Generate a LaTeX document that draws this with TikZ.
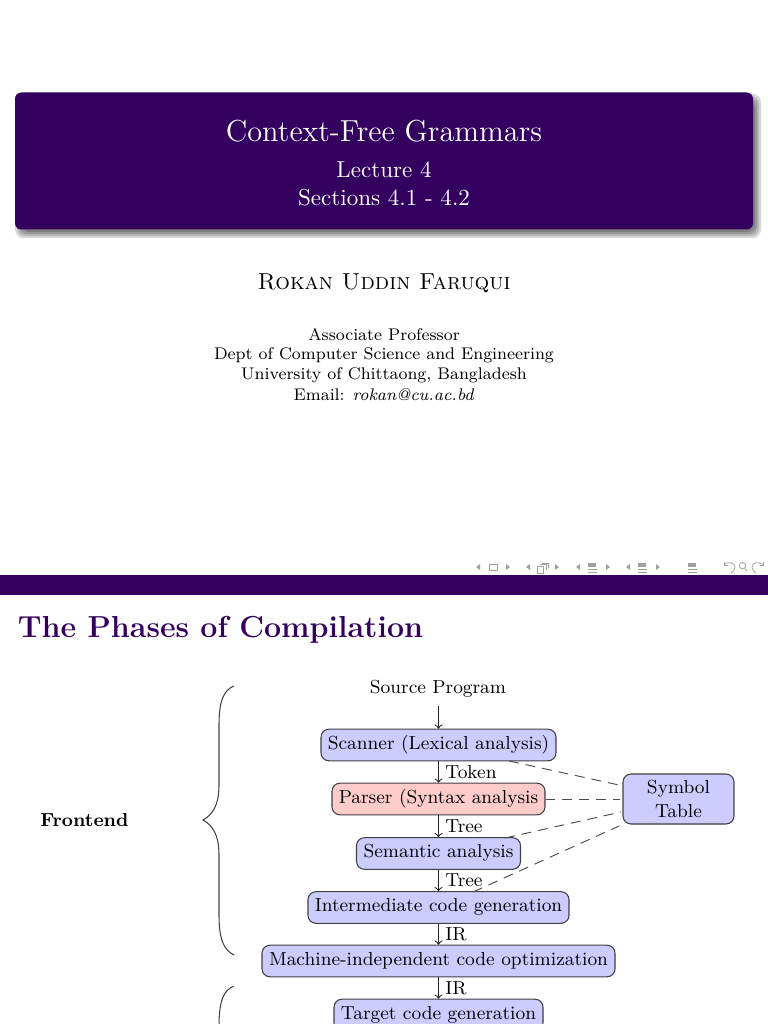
\documentclass[tikz,border=0pt]{standalone}
\definecolor{slidepurple}{RGB}{51,0,96}
\definecolor{phaseblue}{RGB}{204,204,255}
\definecolor{phasered}{RGB}{255,204,204}
\definecolor{navgray}{RGB}{160,160,160}
\newcommand{\bodysize}{\fontsize{8.95}{11.4}\selectfont}
\newcommand{\infosize}{\fontsize{8}{10}\selectfont}
\tikzset{
  txt node/.style={inner sep=0pt,align=center,font=\bodysize},
  big node/.style={txt node,font=\fontsize{10.95}{13.6}\selectfont},
  info node/.style={txt node,font=\infosize},
  phase node/.style={draw=black!75,line width=.5pt,rounded corners=3.8pt,inner sep=0pt,text height=6.9pt,text depth=3.1pt,
    minimum height=15pt,font=\bodysize},
  blue node/.style={phase node,fill=phaseblue},
  red node/.style={phase node,fill=phasered},
  flow/.style={->,>=to,black!85,line width=.5pt},
  flow label/.style={right,inner sep=3pt,text=black,font=\bodysize},
  dash line/.style={black!70,line width=.45pt,dash pattern=on 4.7pt off 3.3pt},
  brace/.style={black!75,line width=.5pt},
  nav/.style={navgray,line width=.35pt},
}
\begin{document}
\begin{tikzpicture}[x=.4743pt,y=-.4743pt]
\useasboundingbox (0,0) rectangle (768,1024);
\clip (0,0) rectangle (768,1024);
%slide 1
\foreach \d in {-2,0,2,4}
  \fill[black,opacity=.16,rounded corners=4pt] (19-\d,98-\d) rectangle (757+\d,234+\d);
\node[fill=slidepurple,rounded corners=3pt,minimum width=738*.4743pt,minimum height=137*.4743pt,inner sep=0pt] (banner) at (384,161) {};
\node[txt node,text=white,font=\fontsize{14.4}{17}\selectfont] (title) at (384,131) {Context-Free Grammars};
\node[big node,text=white] (lecture) at (384,170) {Lecture 4};
\node[big node,text=white] (sections) at (384,198) {Sections 4.1 - 4.2};
\node[big node] (author) at (384,283) {\textsc{Rokan Uddin Faruqui}};
\node[info node] (job) at (384,335) {Associate Professor};
\node[info node] (dept) at (384,355) {Dept of Computer Science and Engineering};
\node[info node] (univ) at (384,375) {University of Chittaong, Bangladesh};
\node[info node] (mail) at (384,395) {Email: \textit{rokan@cu.ac.bd}};
%navigation symbols
\foreach \x in {478,528,578,628} \fill[navgray] (\x+2,564) -- (\x-2,567) -- (\x+2,570) -- cycle;
\foreach \x in {508,557,608,658} \fill[navgray] (\x-2,564) -- (\x+2,567) -- (\x-2,570) -- cycle;
\draw[nav] (489,564.5) rectangle (497,570.5);
\draw[nav] (537,566) rectangle (543,573);
\draw[nav] (540,564.5) -- (546,564.5) -- (546,570);
\draw[nav] (542,563) -- (548,563) -- (548,568);
\foreach \x in {588,638,688} {
  \fill[navgray] (\x,563) rectangle (\x+8,567);
  \draw[nav] (\x,569) -- (\x+9,569) (\x,572) -- (\x+9,572);
}
\draw[nav] (724,565) .. controls (727,561) and (735,562) .. (735,567) .. controls (735,570) and (733,572) .. (731,573);
\draw[nav] (724,562) -- (724,565.5) -- (727.5,565.5);
\draw[nav] (742.5,565.5) circle (3.2) (744.5,568) -- (747,571);
\draw[nav] (763,565) .. controls (760,561) and (752,562) .. (752,567) .. controls (752,570) and (754,572) .. (756,573);
\draw[nav] (763,562) -- (763,565.5) -- (759.5,565.5);
\fill[slidepurple] (0,575) rectangle (768,595);
%slide 2
\node[anchor=west,inner sep=0pt,text=slidepurple,font=\fontsize{14.4}{17}\selectfont\bfseries] (frametitle) at (17.5,630) {The Phases of Compilation};
\node[txt node] (source) at (438,688.5) {Source Program};
\node[blue node,minimum width=235*.4743pt] (scanner) at (438.5,745) {Scanner (Lexical analysis)};
\node[red node,minimum width=213*.4743pt] (parser) at (438.5,799) {Parser (Syntax analysis};
\node[blue node,minimum width=164*.4743pt] (semantic) at (438.5,853.5) {Semantic analysis};
\node[blue node,minimum width=261*.4743pt] (intermediate) at (438.5,907.5) {Intermediate code generation};
\node[blue node,minimum width=353*.4743pt] (machine) at (438.5,961) {Machine-independent code optimization};
\node[blue node,minimum width=209*.4743pt] (target) at (438.5,1015) {Target code generation};
\node[phase node,fill=phaseblue,text height=,text depth=,align=center,minimum width=111*.4743pt,minimum height=50*.4743pt] (symbol) at (678.5,799) {Symbol\\Table};
\node[txt node,font=\bodysize\bfseries] (frontend) at (84.5,820) {Frontend};
%flows
\draw[flow] (438.5,706) -- (scanner.north);
\draw[flow] (scanner.south) -- node[flow label]{Token} (parser.north);
\draw[flow] (parser.south) -- node[flow label]{Tree} (semantic.north);
\draw[flow] (semantic.south) -- node[flow label]{Tree} (intermediate.north);
\draw[flow] (intermediate.south) -- node[flow label]{IR} (machine.north);
\draw[flow] (machine.south) -- node[flow label]{IR} (target.north);
%symbol table links
\coordinate (s1) at (509,761);
\coordinate (s3) at (505,838);
\coordinate (s4) at (473,892);
\coordinate (t1) at (619,785);
\coordinate (t2) at (620,799.4);
\coordinate (t3) at (621,812);
\coordinate (t4) at (619,826);
\draw[dash line] (s1) -- (t1);
\draw[dash line] (parser.east |- t2) -- (t2);
\draw[dash line] (s3) -- (t3);
\draw[dash line] (s4) -- (t4);
%braces
\draw[brace] (234,686) .. controls (224,690) and (219,700) .. (219,725) -- (219,785)
  .. controls (219,806) and (212,815) .. (203,820)
  .. controls (212,825) and (219,834) .. (219,855) -- (219,915)
  .. controls (219,940) and (224,950) .. (234,955);
\draw[brace] (234,986) .. controls (224,990) and (219,1000) .. (219,1026);
\end{tikzpicture}
\end{document}
